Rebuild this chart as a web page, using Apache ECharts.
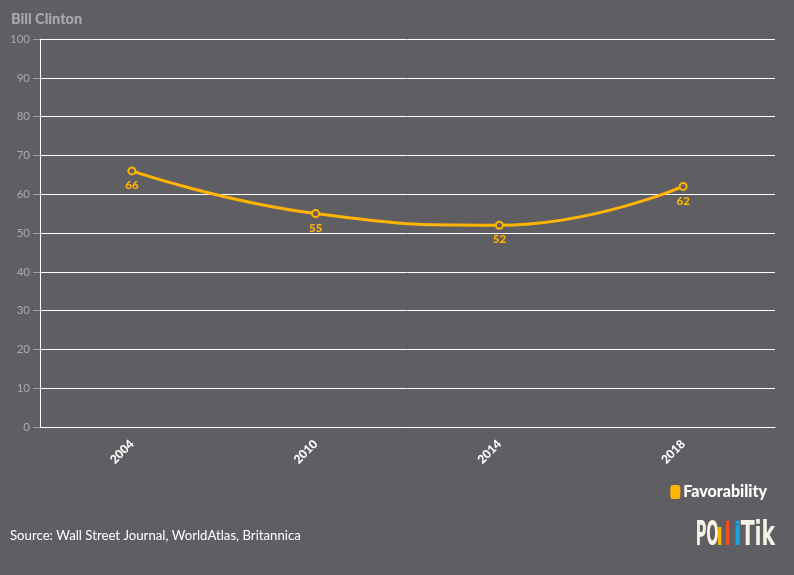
<!DOCTYPE html>
<html><head><meta charset="utf-8">
<script src="https://cdn.jsdelivr.net/npm/echarts@6/dist/echarts.min.js"></script>
<style>html,body{margin:0;padding:0;background:#5f5e63;}#c{width:794px;height:575px;}</style>
</head><body><div id="c"></div>
<script>
var categories = ['2004', '2010', '2014', '2018'];
var favorability = [66, 55, 52, 62];
var yTicks = [0, 100, 10];
var title = 'Bill Clinton';
var source = 'Source: Wall Street Journal, WorldAtlas, Britannica';
var FONT = 'Lato, "Open Sans", sans-serif';
var LOGOFONT = '"DejaVu Sans Condensed", "DejaVu Sans", sans-serif';

// logo text fitting helpers (layout only)
var mctx = document.createElement('canvas').getContext('2d');
function fitText(txt, fs, targetW, bottomY, left) {
  mctx.font = 'bold ' + fs + 'px ' + LOGOFONT;
  mctx.textBaseline = 'middle';
  var m = mctx.measureText(txt);
  var w = m.actualBoundingBoxRight + m.actualBoundingBoxLeft;
  var sx = targetW / w;
  var desc = mctx.measureText('P').actualBoundingBoxDescent;
  return {type: 'text', x: left - m.actualBoundingBoxLeft * sx, y: bottomY - desc, scaleX: sx,
    style: {x: 0, y: 0, text: txt, fill: '#f5f3e4', fontSize: fs, fontWeight: 'bold', fontFamily: LOGOFONT,
      textAlign: 'left', textVerticalAlign: 'middle'}};
}

var chart = echarts.init(document.getElementById('c'), null, {renderer: 'canvas'});
chart.setOption({
  backgroundColor: '#5f5e63',
  animation: false,
  textStyle: {fontFamily: FONT},
  title: {text: title, left: 6, top: 7, textStyle: {color: '#a9a9ac', fontSize: 14.5, fontWeight: 900, fontFamily: FONT}},
  grid: {left: 40, right: 19, top: 39, bottom: 148},
  legend: {right: 22, top: 479, icon: 'roundRect', itemWidth: 10, itemHeight: 14, itemGap: 5,
    itemStyle: {color: '#ffb400', borderWidth: 0},
    textStyle: {color: '#ffffff', fontSize: 16, fontWeight: 900, fontFamily: FONT, padding: [0,0,0,-2]},
    data: ['Favorability']},
  xAxis: {type: 'category', data: categories, boundaryGap: true,
    axisLine: {lineStyle: {color: '#ffffff', width: 1}},
    axisTick: {alignWithLabel: true, length: 6, lineStyle: {color: '#c8c8c8'}},
    axisLabel: {rotate: 45, color: '#ffffff', fontWeight: 900, fontSize: 12, margin: 15, fontFamily: FONT}},
  yAxis: {type: 'value', min: yTicks[0], max: yTicks[1], interval: yTicks[2],
    axisLine: {show: true, lineStyle: {color: '#ffffff', width: 1}},
    axisTick: {show: true, length: 7, lineStyle: {color: '#a0a0a0'}},
    axisLabel: {color: '#a9a9ac', fontSize: 11.5, margin: 10, fontFamily: FONT},
    splitLine: {lineStyle: {color: '#ffffff', width: 1}}},
  series: [{name: 'Favorability', type: 'line', data: favorability, smooth: 0.5,
    color: '#ffb400',
    symbol: 'circle', symbolSize: 7,
    lineStyle: {width: 3, color: '#ffb400'},
    itemStyle: {color: '#5f5e63', borderColor: '#ffb400', borderWidth: 2},
    label: {show: true, position: 'bottom', distance: 4, color: '#ffb400', fontWeight: 900, fontSize: 11.5, fontFamily: FONT}}],
  graphic: [
    {type: 'text', left: 10, top: 529, style: {text: source, fill: '#ffffff', fontSize: 13.2, fontFamily: FONT}},
    fitText('PO', 33, 21.5, 545, 694.7),
    {type: 'rect', shape: {x: 718, y: 527, width: 3.3, height: 18}, style: {fill: '#f5b400'}},
    {type: 'rect', shape: {x: 726, y: 520.7, width: 3.3, height: 24.3}, style: {fill: '#f04e23'}},
    {type: 'rect', shape: {x: 735.5, y: 525, width: 4.3, height: 20}, style: {fill: '#1da1e5'}},
    {type: 'rect', shape: {x: 735.5, y: 520.7, width: 4.3, height: 3.3}, style: {fill: '#1da1e5'}},
    fitText('Tik', 33, 35.3, 545, 740.7)
  ]
});
</script></body></html>
